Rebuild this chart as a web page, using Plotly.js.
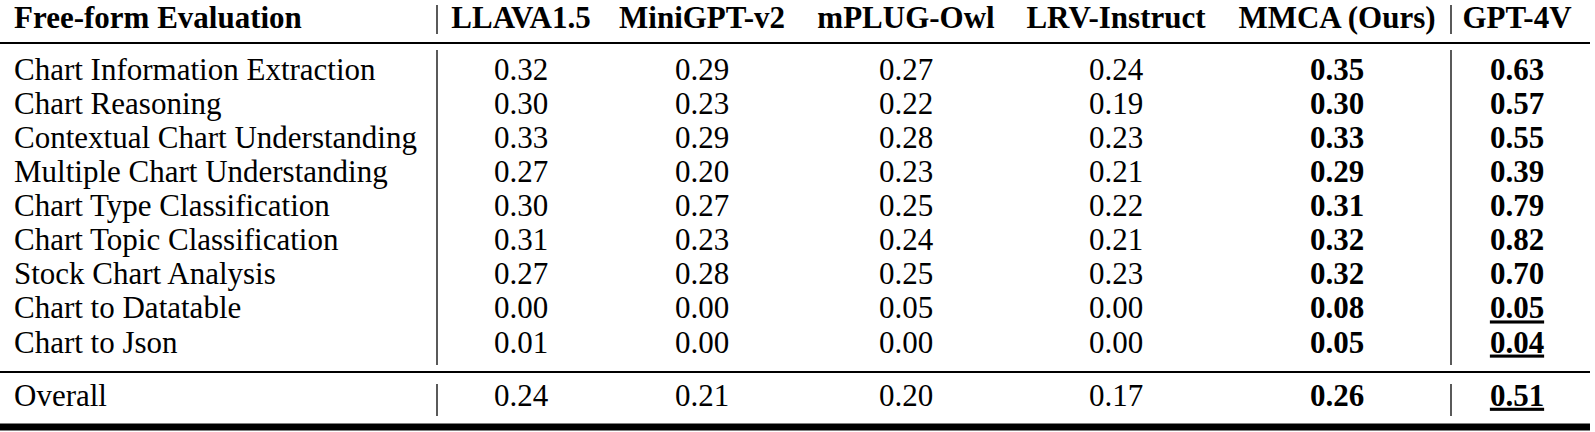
<!DOCTYPE html>
<html>
<head>
<meta charset="utf-8">
<script src="https://cdn.plot.ly/plotly-3.0.1.min.js"></script>
<style>
  html, body { margin: 0; padding: 0; background: #fff; }
  #tbl { width: 1595px; height: 432px; }
</style>
</head>
<body>
<div id="tbl"></div>
<script>
// table contents
var cornerLabel = 'Free-form Evaluation';
var models = ['LLAVA1.5', 'MiniGPT-v2', 'mPLUG-Owl', 'LRV-Instruct', 'MMCA (Ours)', 'GPT-4V'];
var tasks = [
  'Chart Information Extraction',
  'Chart Reasoning',
  'Contextual Chart Understanding',
  'Multiple Chart Understanding',
  'Chart Type Classification',
  'Chart Topic Classification',
  'Stock Chart Analysis',
  'Chart to Datatable',
  'Chart to Json'
];
var llava   = [0.32, 0.30, 0.33, 0.27, 0.30, 0.31, 0.27, 0.00, 0.01];
var minigpt = [0.29, 0.23, 0.29, 0.20, 0.27, 0.23, 0.28, 0.00, 0.00];
var mplug   = [0.27, 0.22, 0.28, 0.23, 0.25, 0.24, 0.25, 0.05, 0.00];
var lrv     = [0.24, 0.19, 0.23, 0.21, 0.22, 0.21, 0.23, 0.00, 0.00];
var mmca    = [0.35, 0.30, 0.33, 0.29, 0.31, 0.32, 0.32, 0.08, 0.05];
var gpt4v   = [0.63, 0.57, 0.55, 0.39, 0.79, 0.82, 0.70, 0.05, 0.04];
var overallLabel = 'Overall';
var overall = [0.24, 0.21, 0.20, 0.17, 0.26, 0.51];
var boldModels = [false, false, false, false, true, true];
var underlinedGpt = [7, 8]; // rows where GPT-4V value is underlined
var underlineOverall = [false, false, false, false, false, true];

// layout geometry (pixels)
var colX = [521, 702, 906, 1116, 1337, 1517];
var labelX = 14;
var headY = 20;
var rowY0 = 72, rowStep = 34.1;
var overallY = 398;
var FONT = 'Liberation Serif';
var FS = 31;

var series = [llava, minigpt, mplug, lrv, mmca, gpt4v];

function rowY(i) { return rowY0 + i * rowStep; }

function fmt(v, bold, under) {
  var s = v.toFixed(2);
  if (under) s = '<u>' + s + '</u>';
  if (bold) s = '<b>' + s + '</b>';
  return s;
}

function textTrace(xs, ys, txt, pos) {
  return {
    x: xs, y: ys, text: txt,
    mode: 'text', textposition: pos, cliponaxis: false, hoverinfo: 'skip',
    textfont: {family: FONT, size: FS, color: '#000'}
  };
}

var traces = [];

// header
traces.push(textTrace([labelX], [headY], ['<b>' + cornerLabel + '</b>'], 'middle right'));
traces.push(textTrace(colX, colX.map(function () { return headY; }),
  models.map(function (m) { return '<b>' + m + '</b>'; }), 'middle center'));

// row labels
traces.push(textTrace(tasks.map(function () { return labelX; }),
  tasks.map(function (t, i) { return rowY(i); }), tasks, 'middle right'));
traces.push(textTrace([labelX], [overallY], [overallLabel], 'middle right'));

// value columns
series.forEach(function (vals, c) {
  traces.push(textTrace(
    vals.map(function () { return colX[c]; }),
    vals.map(function (v, i) { return rowY(i); }),
    vals.map(function (v, i) {
      var under = (c === 5 && underlinedGpt.indexOf(i) >= 0);
      return fmt(v, boldModels[c], under);
    }),
    'middle center'));
});

// overall row
traces.push(textTrace(colX, colX.map(function () { return overallY; }),
  overall.map(function (v, c) { return fmt(v, boldModels[c], underlineOverall[c]); }),
  'middle center'));

function hline(y, w) {
  return {type: 'line', xref: 'x', yref: 'y', x0: 0, x1: 1590, y0: y, y1: y,
          line: {color: '#000', width: w}};
}
function vline(x, y0, y1) {
  return {type: 'line', xref: 'x', yref: 'y', x0: x, x1: x, y0: y0, y1: y1,
          line: {color: '#000', width: 1.3}};
}

var shapes = [
  hline(43, 2), hline(372, 2), hline(427, 7),
  vline(437, 5, 34), vline(437, 50, 365), vline(437, 384, 416),
  vline(1451, 5, 34), vline(1451, 50, 365), vline(1451, 384, 416)
];

var layout = {
  width: 1595, height: 432,
  margin: {l: 0, r: 0, t: 0, b: 0},
  paper_bgcolor: '#fff', plot_bgcolor: '#fff',
  showlegend: false,
  xaxis: {range: [0, 1595], visible: false, fixedrange: true},
  yaxis: {range: [432, 0], visible: false, fixedrange: true},
  shapes: shapes
};

Plotly.newPlot('tbl', traces, layout, {staticPlot: true, displayModeBar: false});
</script>
</body>
</html>
